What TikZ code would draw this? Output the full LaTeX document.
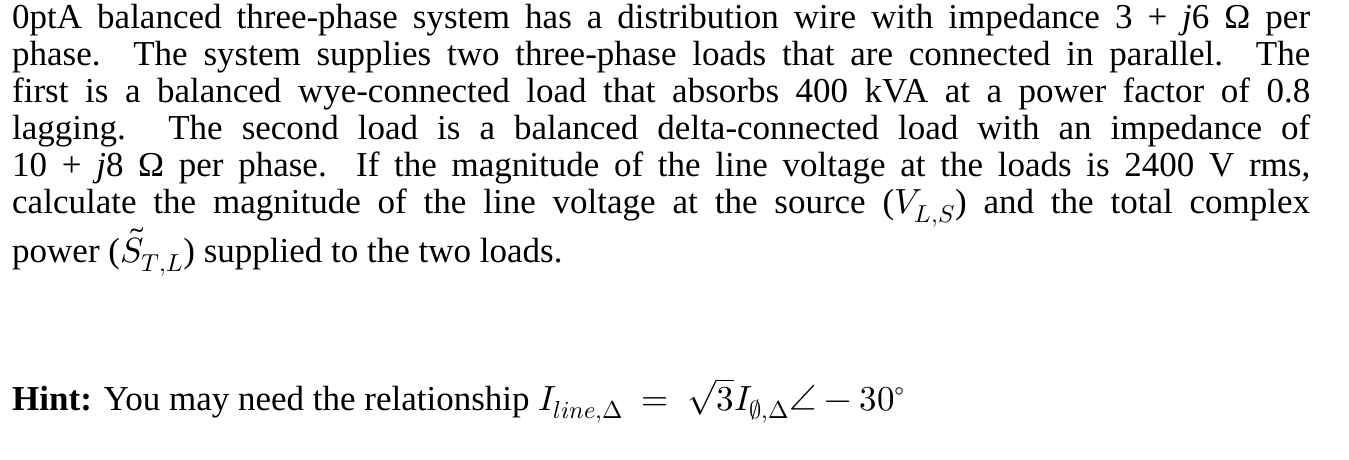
\documentclass[tikz,border=0pt]{standalone}
\usepackage{fontspec}
\usepackage{unicode-math}
\setmainfont{Liberation Serif}
\setmathfont{Latin Modern Math}
\begin{document}
\begin{tikzpicture}[x=1pt,y=1pt]
\useasboundingbox (0,0) rectangle (1349,-460);
\tikzset{para/.style={anchor=north west,inner sep=0pt,text width=1298pt,align=justify,font=\fontsize{35}{37}\selectfont\spaceskip=0.22em plus 0.4em minus 0.08em\relax}}
\node[para] (p) at (12,-4) {A balanced three-phase system has a distribution wire with impedance 3 + \textit{j}6 Ω per\linebreak
phase. The system supplies two three-phase loads that are connected in parallel. The\linebreak
first is a balanced wye-connected load that absorbs 400 kVA at a power factor of 0.8\linebreak
lagging. The second load is a balanced delta-connected load with an impedance of\linebreak
10 + \textit{j}8 Ω per phase. If the magnitude of the line voltage at the loads is 2400 V rms,\linebreak
calculate the magnitude of the line voltage at the source ($V_{L,S}$) and the total complex\linebreak
power ($\tilde{S}_{T,L}$) supplied to the two loads.};
\node[anchor=base west,inner sep=0pt,font=\fontsize{35}{37}\selectfont] (h) at (12,-410) {\textbf{Hint:} You may need the relationship $I_{line,\Delta}\ =\ \sqrt{3}I_{\emptyset,\Delta}\angle-30^\circ$};
\end{tikzpicture}
\end{document}
